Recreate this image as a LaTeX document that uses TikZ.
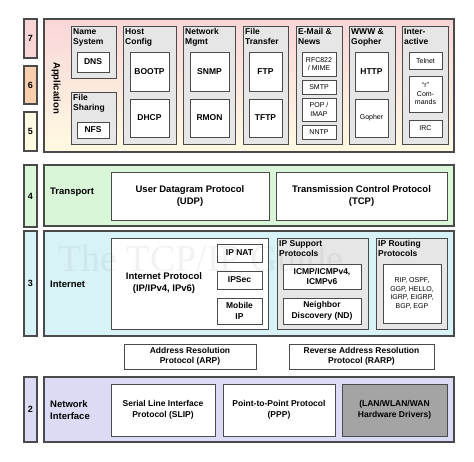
\documentclass[tikz,border=0pt]{standalone}
\usepackage{fontspec}
\setmainfont{Liberation Sans}
\newfontfamily\markfont{Liberation Serif}
\usetikzlibrary{positioning,shadows}

\definecolor{edge}{HTML}{4A4A4A}
\definecolor{grp}{HTML}{E6E6E6}
\definecolor{apptop}{HTML}{F9D6D8}
\definecolor{appbot}{HTML}{FFFAE2}
\definecolor{num7}{HTML}{F9D5D7}
\definecolor{num6}{HTML}{F7CFAE}
\definecolor{num5}{HTML}{FFFBE2}
\definecolor{trans}{HTML}{D9F6D9}
\definecolor{inet}{HTML}{D8F3F7}
\definecolor{netif}{HTML}{DBDBF6}
\definecolor{hwdrv}{HTML}{A4A4A4}

\tikzset{
  layer/.style   = {draw=edge, line width=1.1pt},
  group/.style   = {draw=edge, line width=1pt, fill=grp},
  proto/.style   = {draw=edge, line width=1pt, fill=white},
  numbox/.style  = {draw=edge, line width=1.1pt, minimum width=13pt, inner sep=0pt,
                    font=\bfseries\fontsize{9}{10}\selectfont,
                    drop shadow={shadow xshift=1.2pt, shadow yshift=-1.2pt, fill=black!45, opacity=.5}},
  lname/.style   = {anchor=west, align=left, inner sep=0pt, font=\bfseries\fontsize{9.5}{11.5}\selectfont},
  gtitle/.style  = {anchor=north west, align=left, inner sep=2pt, font=\bfseries\fontsize{8.5}{10.5}\selectfont},
  plabel/.style  = {align=center, inner sep=0pt, font=\bfseries\fontsize{8.5}{10.5}\selectfont},
  wlabel/.style  = {align=center, inner sep=0pt, font=\bfseries\fontsize{9.5}{11.5}\selectfont},
  slabel/.style  = {align=center, inner sep=0pt, font=\fontsize{7}{8.5}\selectfont},
}

\begin{document}
\begin{tikzpicture}[x=1pt, y=-1pt]
            \useasboundingbox (0,0) rectangle (474,461);

            % layer numbers
            \node[numbox, fill=num7, minimum height=39pt]  (n7) at (30.5,38.5)  {7};
            \node[numbox, fill=num6, minimum height=38pt]  (n6) at (30.5,85)    {6};
            \node[numbox, fill=num5, minimum height=39pt]  (n5) at (30.5,131.5) {5};
            \node[numbox, fill=trans, minimum height=62pt] (n4) at (30.5,196)   {4};
            \node[numbox, fill=inet, minimum height=105pt] (n3) at (30.5,283.5) {3};
            \node[numbox, fill=netif, minimum height=65pt] (n2) at (30.5,409.5) {2};

            % application layer
            \draw[layer, top color=apptop, bottom color=appbot] (44,19) rectangle (454,152);
            \node[lname, anchor=center, rotate=-90] (app) at (56,88) {Application};

            \draw[group] (71,26)  rectangle (116,78);
            \draw[group] (71,92)  rectangle (116,144);
            \draw[group] (123,26) rectangle (176,144);
            \draw[group] (183,26) rectangle (235,144);
            \draw[group] (243,26) rectangle (288,144);
            \draw[group] (296,26) rectangle (342,144);
            \draw[group] (349,26) rectangle (395,144);
            \draw[group] (402,26) rectangle (448,144);

            \node[gtitle] (gname)  at (71,26)  {Name\\System};
            \node[gtitle] (gfile)  at (71,92)  {File\\Sharing};
            \node[gtitle] (ghost)  at (123,26) {Host\\Config};
            \node[gtitle] (gmgmt)  at (183,26) {Network\\Mgmt};
            \node[gtitle] (gxfer)  at (243,26) {File\\Transfer};
            \node[gtitle] (gmail)  at (296,26) {E-Mail \&\\News};
            \node[gtitle] (gwww)   at (349,26) {WWW \&\\Gopher};
            \node[gtitle] (gint)   at (402,26) {Inter-\\active};

            \draw[proto] (77,52)   rectangle (109,72);
            \draw[proto] (77,122)  rectangle (109,138);
            \draw[proto] (130,52)  rectangle (169,91);
            \draw[proto] (130,99)  rectangle (169,137);
            \draw[proto] (190,52)  rectangle (229,91);
            \draw[proto] (190,99)  rectangle (229,137);
            \draw[proto] (249,52)  rectangle (282,91);
            \draw[proto] (249,99)  rectangle (282,137);
            \draw[proto] (302,52)  rectangle (336,76);
            \draw[proto] (302,80)  rectangle (336,94);
            \draw[proto] (302,98)  rectangle (336,121);
            \draw[proto] (302,125) rectangle (336,139);
            \draw[proto] (355,52)  rectangle (388,91);
            \draw[proto] (355,99)  rectangle (388,137);
            \draw[proto] (409,52)  rectangle (442,69);
            \draw[proto] (409,76)  rectangle (442,112);
            \draw[proto] (409,120) rectangle (442,137);

            \node[plabel] (dns)    at (93,62)      {DNS};
            \node[plabel] (nfs)    at (93,130)     {NFS};
            \node[plabel] (bootp)  at (149.5,71.5) {BOOTP};
            \node[plabel] (dhcp)   at (149.5,118)  {DHCP};
            \node[plabel] (snmp)   at (209.5,71.5) {SNMP};
            \node[plabel] (rmon)   at (209.5,118)  {RMON};
            \node[plabel] (ftp)    at (265.5,71.5) {FTP};
            \node[plabel] (tftp)   at (265.5,118)  {TFTP};
            \node[slabel] (rfc)    at (319,64)     {RFC822\\/ MIME};
            \node[slabel] (smtp)   at (319,87)     {SMTP};
            \node[slabel] (pop)    at (319,109.5)  {POP /\\IMAP};
            \node[slabel] (nntp)   at (319,132)    {NNTP};
            \node[plabel] (http)   at (371.5,71.5) {HTTP};
            \node[slabel] (gopher) at (371.5,118)  {Gopher};
            \node[slabel] (telnet) at (425.5,60.5) {Telnet};
            \node[slabel] (rcmd)   at (425.5,94)   {``r''\\Com-\\mands};
            \node[slabel] (irc)    at (425.5,128.5){IRC};

            % transport layer
            \draw[layer, fill=trans] (44,165) rectangle (454,226);
            \node[lname] (trn) at (50,192) {Transport};
            \draw[proto] (111,172) rectangle (269,220);
            \draw[proto] (276,172) rectangle (447,220);
            \node[wlabel] (udp) at (190,196)   {User Datagram Protocol\\(UDP)};
            \node[wlabel] (tcp) at (361.5,196) {Transmission Control Protocol\\(TCP)};

            % internet layer
            \draw[layer, fill=inet] (44,231) rectangle (454,336);
            \node[lname] (inl) at (50,284) {Internet};
            \draw[proto] (111,238) rectangle (268,329);
            \node[wlabel] (ip) at (164,283) {Internet Protocol\\(IP/IPv4, IPv6)};
            \draw[proto] (217,244) rectangle (262,262);
            \draw[proto] (217,271) rectangle (262,289);
            \draw[proto] (217,298) rectangle (262,324);
            \node[plabel] (nat)    at (239.5,253) {IP NAT};
            \node[plabel] (ipsec)  at (239.5,280) {IPSec};
            \node[plabel] (mobile) at (239.5,311) {Mobile\\IP};

            \draw[group] (277,238) rectangle (368,329);
            \node[gtitle] (gsup) at (277,238) {IP Support\\Protocols};
            \draw[proto] (283,264) rectangle (361,289);
            \draw[proto] (283,298) rectangle (361,324);
            \node[plabel] (icmp) at (322,276.5) {ICMP/ICMPv4,\\ICMPv6};
            \node[plabel] (nd)   at (322,311)   {Neighbor\\Discovery (ND)};

            \draw[group] (376,238) rectangle (447,329);
            \node[gtitle] (grout) at (376,238) {IP Routing\\Protocols};
            \draw[proto] (383,264) rectangle (441,323);
            \node[slabel] (rip) at (412,293.5) {RIP, OSPF,\\GGP, HELLO,\\IGRP, EIGRP,\\BGP, EGP};

            % address resolution
            \draw[proto] (124,344) rectangle (256,369);
            \draw[proto] (289,344) rectangle (434,369);
            \node[plabel] (arp)  at (190,356.5)   {Address Resolution\\Protocol (ARP)};
            \node[plabel] (rarp) at (361.5,356.5) {Reverse Address Resolution\\Protocol (RARP)};

            % network interface layer
            \draw[layer, fill=netif] (44,377) rectangle (454,442);
            \node[lname] (nil) at (50,410) {Network\\Interface};
            \draw[proto] (111,384) rectangle (215,436);
            \draw[proto] (223,384) rectangle (335,436);
            \draw[proto, fill=hwdrv] (342,384) rectangle (447,436);
            \node[plabel] (slip) at (163,410)   {Serial Line Interface\\Protocol (SLIP)};
            \node[plabel] (ppp)  at (279,410)   {Point-to-Point Protocol\\(PPP)};
            \node[plabel] (lan)  at (394.5,410) {(LAN/WLAN/WAN\\Hardware Drivers)};

            % watermark
            \node[anchor=west, inner sep=0pt, text=gray, opacity=.1,
                  font=\markfont\fontsize{38}{40}\selectfont] (mark) at (58,258) {The TCP/IP Guide};
\end{tikzpicture}
\end{document}
